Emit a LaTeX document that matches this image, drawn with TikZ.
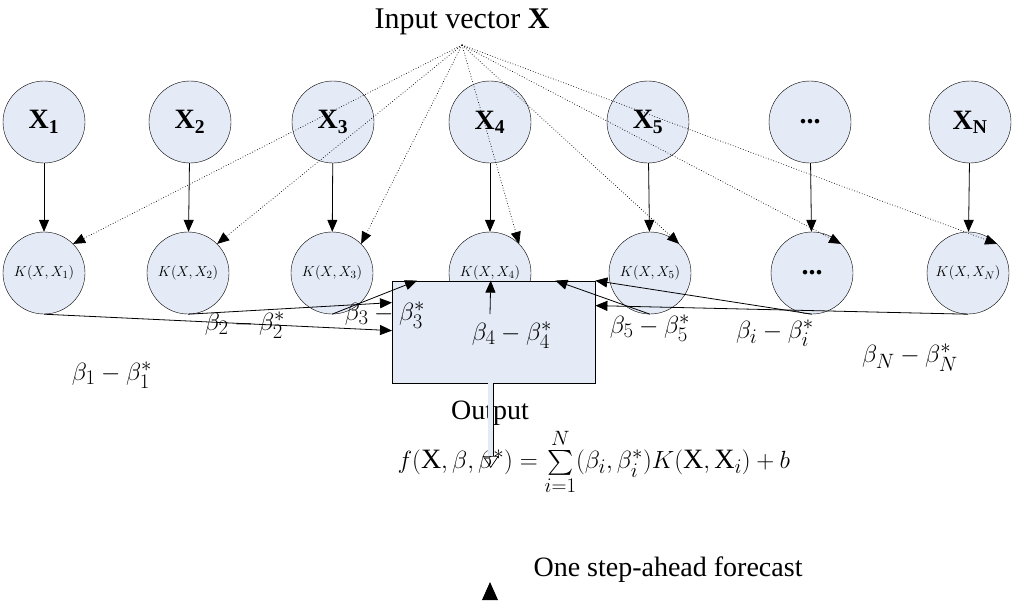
\documentclass[tikz,border=0pt]{standalone}
\usepackage{amsmath}
\usepackage{fontspec}
\setmainfont{Liberation Serif}
\usetikzlibrary{arrows.meta,calc}
\definecolor{nodefill}{RGB}{228,234,246}
\begin{document}
\begin{tikzpicture}[x=1pt,y=-1pt,
  inp/.style={circle,draw,fill=nodefill,minimum size=82pt,inner sep=0pt,font=\fontsize{28}{30}\selectfont\bfseries},
  ker/.style={circle,draw,fill=nodefill,minimum size=82pt,inner sep=0pt,font=\fontsize{15}{16}\selectfont},
  arr/.style={-{Triangle[length=12pt,width=10pt]},line width=0.8pt},
  dot/.style={-{Triangle[length=12pt,width=10pt]},dotted,line width=0.7pt},
  lab/.style={font=\fontsize{28}{30}\selectfont}]
\useasboundingbox (0,0) rectangle (1024,603);
\node[lab,font=\fontsize{30}{32}\selectfont] (title) at (462,22) {Input vector \textbf{X}};
\coordinate (apex) at (462,45);
\foreach \n/\x/\t in {1/44/{X\textsubscript{1}},2/190/{X\textsubscript{2}},3/333/{X\textsubscript{3}},4/490/{X\textsubscript{4}},5/648/{X\textsubscript{5}},6/810/{...},7/970/{X\textsubscript{N}}}
  \node[inp] (x\n) at (\x,122) {\t};
\foreach \n/\x/\t in {1/44/{$K(X,X_1)$},2/188/{$K(X,X_2)$},3/332/{$K(X,X_3)$},4/490/{$K(X,X_4)$},5/650/{$K(X,X_5)$},7/968/{$K(X,X_N)$}}
  \node[ker] (k\n) at (\x,273) {\t};
\node[ker,font=\fontsize{28}{30}\selectfont\bfseries] (k6) at (812,273) {...};
\foreach \n in {1,...,7}{
  \draw[arr] (x\n) -- (k\n);
  \draw[dot] (apex) -- (k\n.north east);
}
\node[draw,fill=nodefill,minimum width=203pt,minimum height=102pt,anchor=south west] (out) at (392,383) {};
\node[lab] (otext) at (490,413) {Output};
\node[lab,anchor=west] (formula) at (394,462) {$f(\mathrm{X},\beta,\beta^*)=\sum\limits_{i=1}^{N}(\beta_i,\beta_i^*)K(\mathrm{X},\mathrm{X}_i)+b$};
\draw[arr] (k1.south) -- ([yshift=-50pt]out.north west);
\draw[arr] (k2.south) -- ([yshift=-22pt]out.north west);
\draw[arr] (k3.south) -- ([xshift=25pt]out.north west);
\draw[arr] (k4.south) -- ([xshift=-3pt]out.north);
\draw[arr] (k5.south) -- ([xshift=-40pt]out.north east);
\draw[arr] (k6.south) -- (out.north east);
\draw[arr] (k7.south) -- ([yshift=-25pt]out.north east);
\node[lab] (b1) at (112,375) {$\beta_1-\beta_1^*$};
\node[lab] (b2) at (245,325) {$\beta_2-\beta_2^*$};
\node[lab] (b3) at (385,315) {$\beta_3-\beta_3^*$};
\node[lab] (b4) at (512,335) {$\beta_4-\beta_4^*$};
\node[lab] (b5) at (650,328) {$\beta_5-\beta_5^*$};
\node[lab] (bi) at (775,333) {$\beta_i-\beta_i^*$};
\node[lab] (bn) at (910,358) {$\beta_N-\beta_N^*$};
\coordinate (fstart) at ([xshift=-3pt]out.south);
\coordinate (fend) at ($(fstart)+(0,85)$);
\draw[double distance=5pt,line width=0.7pt,double=nodefill,-{Triangle[open,length=12pt,width=16pt]}] (fstart) -- (fend);
\fill (482,600) -- (498,600) -- (490,582) -- cycle;
\node[lab,anchor=west] (fc) at (530,570) {One step-ahead forecast};
\end{tikzpicture}
\end{document}
